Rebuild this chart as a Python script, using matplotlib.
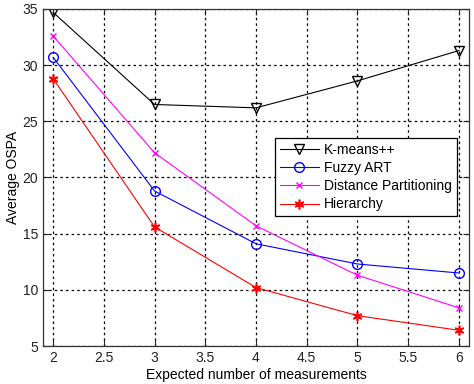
import matplotlib
matplotlib.use("Agg")
import matplotlib.pyplot as plt

plt.rcParams['font.family'] = ['Liberation Sans', 'DejaVu Sans']

x = [2, 3, 4, 5, 6]
kmeans = [34.7, 26.5, 26.2, 28.6, 31.3]
fuzzy = [30.7, 18.8, 14.1, 12.3, 11.5]
dist = [32.6, 22.2, 15.7, 11.3, 8.4]
hier = [28.8, 15.6, 10.2, 7.7, 6.4]
labels = ['K-means++', 'Fuzzy ART', 'Distance Partitioning', 'Hierarchy']
xticks = [2, 2.5, 3, 3.5, 4, 4.5, 5, 5.5, 6]
yticks = [5, 10, 15, 20, 25, 30, 35]

fig = plt.figure(figsize=(4.74, 3.84), dpi=100)
ax = fig.add_axes([43/474, 1-346/384, (469-43)/474, (346-9)/384])

ax.plot(x, kmeans, color='black', marker='v', mfc='none', mec='black', ms=7, lw=0.8, label=labels[0])
ax.plot(x, fuzzy, color='blue', marker='o', mfc='none', mec='blue', ms=7, lw=0.8, label=labels[1])
ax.plot(x, dist, color='magenta', marker='x', ms=5, lw=0.8, label=labels[2])
ax.plot(x, hier, color='red', marker=(6, 2, 0), ms=7, mew=1.2, lw=0.8, label=labels[3])

ax.set_xlim(1.9, 6.1)
ax.set_ylim(5, 35)
ax.set_xticks(xticks)
ax.set_xticklabels([f'{t:g}' for t in xticks])
ax.set_yticks(yticks)
ax.tick_params(direction='in', labelsize=10, top=True, right=True, length=4, width=0.8, colors='#222222')
ax.grid(True, color='black', linestyle=(0, (2, 2.5)), linewidth=0.9)
for s in ax.spines.values():
    s.set_color('#333333')
    s.set_linewidth(0.9)
ax.set_xlabel('Expected number of measurements', fontsize=10, labelpad=2)
ax.set_ylabel('Average OSPA', fontsize=10, labelpad=2)

leg = ax.legend(loc='upper left', bbox_to_anchor=((275-43)/426, 1-(138-9)/337), fontsize=10,
                fancybox=False, framealpha=1, edgecolor='black', borderpad=0.35, labelspacing=0.3,
                handlelength=2.8, handletextpad=0.4, borderaxespad=0)
leg.get_frame().set_linewidth(0.9)

fig.savefig('out.png', dpi=100)
